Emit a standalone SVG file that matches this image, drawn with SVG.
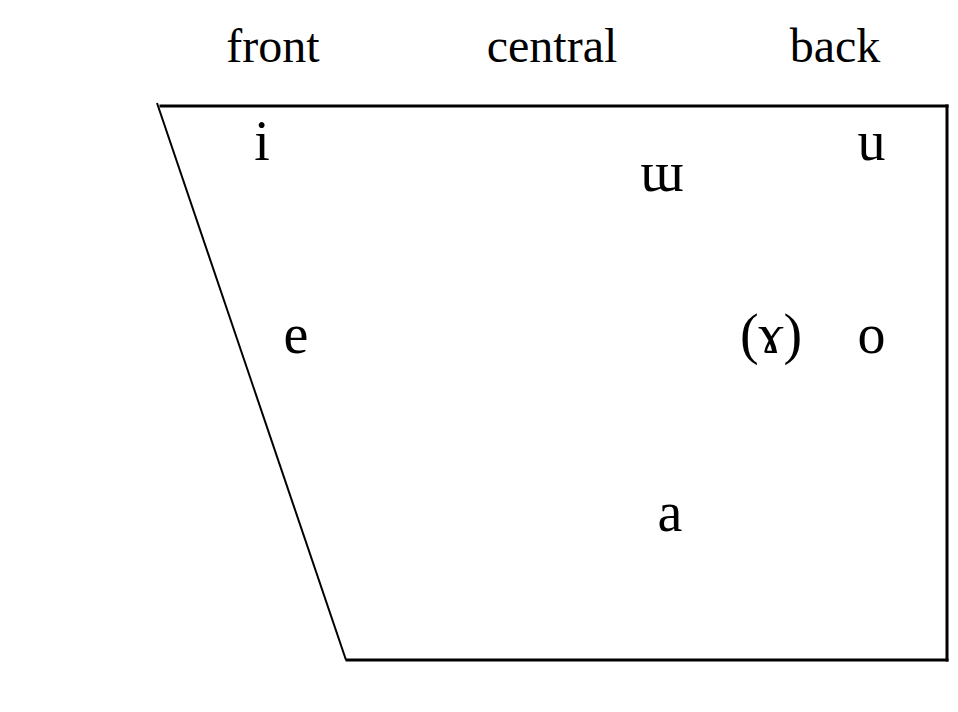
<svg xmlns="http://www.w3.org/2000/svg" width="958" height="712" viewBox="0 0 958 712">
<style>
.lbl{font-family:"Liberation Serif","DejaVu Serif",serif;font-size:48px;fill:#000;text-anchor:middle}
.v{font-family:"Liberation Serif","DejaVu Serif",serif;font-size:56px;fill:#000;text-anchor:middle}
.edge{stroke:#000;stroke-width:3;fill:none;stroke-linecap:square}
</style>
<rect width="958" height="712" fill="#fff"/>
<g id="connectors">
<line class="edge" x1="161" y1="106" x2="947" y2="106"/>
<line class="edge" x1="947" y1="106" x2="947" y2="660"/>
<line class="edge" x1="347" y1="660" x2="947" y2="660"/>
<line x1="157" y1="103" x2="346" y2="660" stroke="#000" stroke-width="2"/>
</g>
<g id="labels">
<text class="lbl" x="273" y="62">front</text>
<text class="lbl" x="552" y="62">central</text>
<text class="lbl" x="835" y="62">back</text>
</g>
<g id="vowel-i"><text class="v" x="262" y="160">i</text></g>
<g id="vowel-u"><text class="v" x="871.5" y="160">u</text></g>
<g id="vowel-high-central"><text class="v" x="662" y="191">ɯ</text></g>
<g id="vowel-e"><text class="v" x="296" y="353">e</text></g>
<g id="vowel-ramshorn"><text class="v" x="771" y="353">(ɤ)</text></g>
<g id="vowel-o"><text class="v" x="871.5" y="353">o</text></g>
<g id="vowel-a"><text class="v" x="670" y="531">a</text></g>
</svg>
